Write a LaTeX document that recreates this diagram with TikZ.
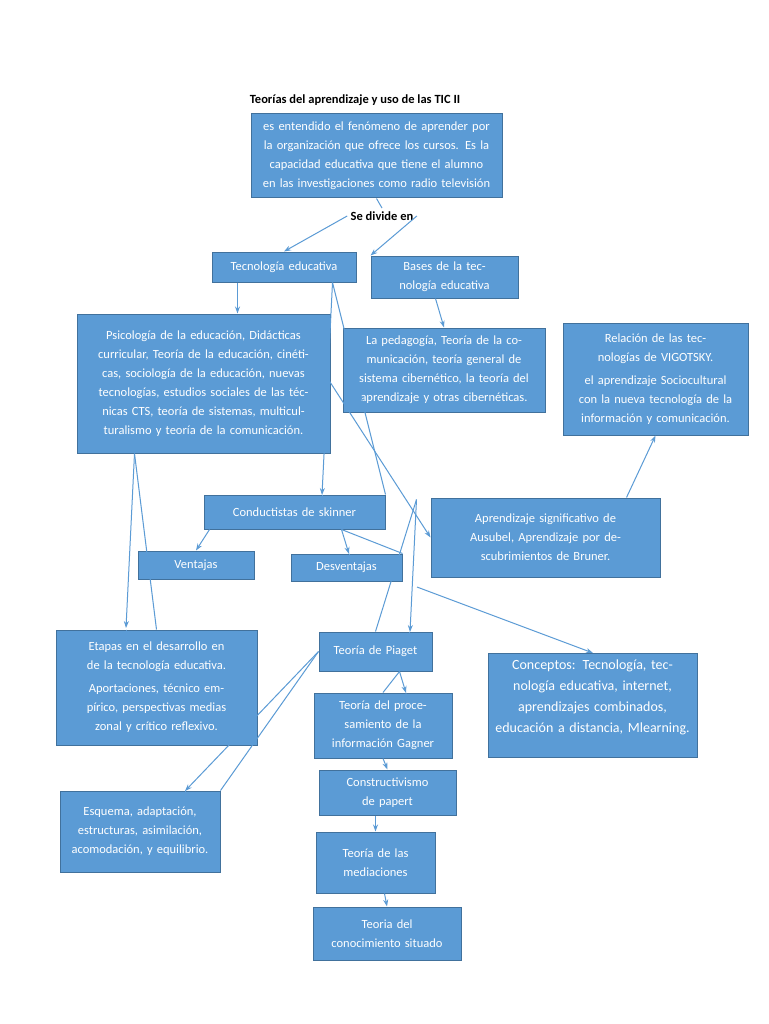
\documentclass[tikz,border=0pt]{standalone}
\usepackage{fontspec}
\setmainfont{Carlito}
\usetikzlibrary{arrows.meta}
\definecolor{bx}{HTML}{5B9BD5}
\definecolor{bd}{HTML}{41719C}
\definecolor{ar}{HTML}{5B9BD5}
\begin{document}
\begin{tikzpicture}[x=1pt,y=-1pt,
 box/.style={fill=bx,draw=bd,line width=1pt,text=white,align=center,inner sep=2pt,font=\fontsize{12.5}{19}\selectfont},
 ar/.style={draw=ar,line width=1pt,-{Stealth[length=7pt,width=5pt]}}]
\useasboundingbox (0,0) rectangle (768,1024);
\fill[white] (0,0) rectangle (768,1024);
\newcommand\bx[6]{\node[box,minimum width=#4-#2,minimum height=#5-#3,text width=#4-#2-8] (#1) at ({(#2+#4)/2},{(#3+#5)/2}) {#6};}
\node[font=\fontsize{12.5}{15}\selectfont\bfseries] (title) at (355,100) {Teorías del aprendizaje y uso de las TIC II};
\bx{a}{251}{114}{502}{198}{es entendido el fenómeno de aprender por la organización que ofrece los cursos. Es la capacidad educativa que tiene el alumno en las investigaciones como radio televisión}
\node[font=\fontsize{12.5}{15}\selectfont\bfseries] (div) at (382,216) {Se divide en};
\bx{te}{212}{252}{356}{282}{Tecnología educativa}
\bx{bt}{371}{256}{518}{298}{Bases de la tecnología educativa}
\bx{ps}{77}{314}{330}{453}{Psicología de la educación, Didácticas curricular, Teoría de la educación, cinéticas, sociología de la educación, nuevas tecnologías, estudios sociales de las técnicas CTS, teoría de sistemas, multiculturalismo y teoría de la comunicación.}
\bx{pe}{343}{328}{545}{412}{La pedagogía, Teoría de la comunicación, teoría general de sistema cibernético, la teoría del aprendizaje y otras cibernéticas.}
\bx{re}{563}{323}{748}{435}{Relación de las tecnologías de VIGOTSKY.\\[4pt] el aprendizaje Sociocultural con la nueva tecnología de la información y comunicación.}
\bx{co}{204}{495}{385}{529}{Conductistas de skinner}
\bx{as}{431}{498}{660}{577}{Aprendizaje significativo de Ausubel, Aprendizaje por descubrimientos de Bruner.}
\bx{ve}{138}{551}{254}{579}{Ventajas}
\bx{de}{291}{554}{402}{581}{Desventajas}
\bx{et}{56}{630}{257}{745}{Etapas en el desarrollo en de la tecnología educativa.\\[4pt] Aportaciones, técnico empírico, perspectivas medias zonal y crítico reflexivo.}
\bx{pi}{319}{632}{432}{671}{Teoría de Piaget}
\node[box,minimum width=209,minimum height=104,anchor=north west,font=\fontsize{14}{21}\selectfont] (cn) at (488,653) {};
\begin{scope}
\clip (489,654) rectangle (696,756);
\node[text=white,align=center,text width=200,anchor=north,font=\fontsize{14}{21}\selectfont] (cnt) at (592.5,656) {Conceptos: Tecnología, tecnología educativa, internet, aprendizajes combinados, educación a distancia, Mlearning.};
\end{scope}
\bx{pr}{314}{693}{452}{758}{Teoría del procesamiento de la información Gagner}
\bx{cs}{319}{770}{456}{815}{Constructivismo de papert}
\bx{es}{60}{791}{220}{872}{Esquema, adaptación, estructuras, asimilación, acomodación, y equilibrio.}
\bx{me}{316}{832}{435}{893}{Teoría de las mediaciones}
\bx{cc}{313}{907}{461}{960}{Teoria del conocimiento situado}
\draw[draw=ar,line width=1pt] (a.south) -- (div.north);
\draw[ar] (div.west) -- (te.north);
\draw[ar] (div.east) -- (bt.north west);
\draw[ar] (te.south west) ++(26,0) coordinate (t1) -- (ps.north -| t1);
\draw[ar] (te.south east) ++(-24,0) coordinate (t2) -- (co.north east) ++(-63,0);
\coordinate (c2) at (322,495);
\draw[ar] (t2) -- (c2);
\draw[ar] (bt.south) ++(-9,0) coordinate (b1) -- (pe.north);
\draw[ar] (ps.east) ++(-6,-10) coordinate (p1) -- (as.west);
\draw[ar] (as.north) ++(81,0) coordinate (a1) -- (re.south);
\draw[ar] (ps.south west) ++(58,0) coordinate (p2) -- (et.north) ++(-30,0);
\coordinate (e2) at (126,628);
\draw[ar] (p2) -- (e2);
\draw[ar] (co.south west) ++(6,0) coordinate (c3) -- (ve.north);
\draw[ar] (co.south east) ++(-44,0) coordinate (c4) -- (de.north east) ++(-53,0);
\coordinate (d2) at (349,554);
\draw[ar] (c4) -- (d2);
\draw[ar] (as.north west) ++(-14,2) coordinate (a2) -- (pi.north) ++(34,0);
\coordinate (pi2) at (410,632);
\draw[ar] (a2) -- (pi2);
\coordinate (a3) at (417,587);
\draw[ar] (a3) -- (cn.north);
\draw[ar] (pi.west) -- (es.north east) ++(-35,0);
\coordinate (es2) at (185,791);
\draw[ar] (pi.west) -- (es2);
\draw[ar] (pi.south) ++(24,0) coordinate (pi3) -- (pr.north) ++(23,0);
\coordinate (pr2) at (406,693);
\draw[ar] (pi3) -- (pr2);
\draw[ar] (pr.south) -- (cs.north);
\draw[ar] (cs.south) ++(-12,0) coordinate (cs2) -- (me.north);
\draw[ar] (me.south) ++(9,0) coordinate (m2) -- (cc.north);
\end{tikzpicture}
\end{document}
